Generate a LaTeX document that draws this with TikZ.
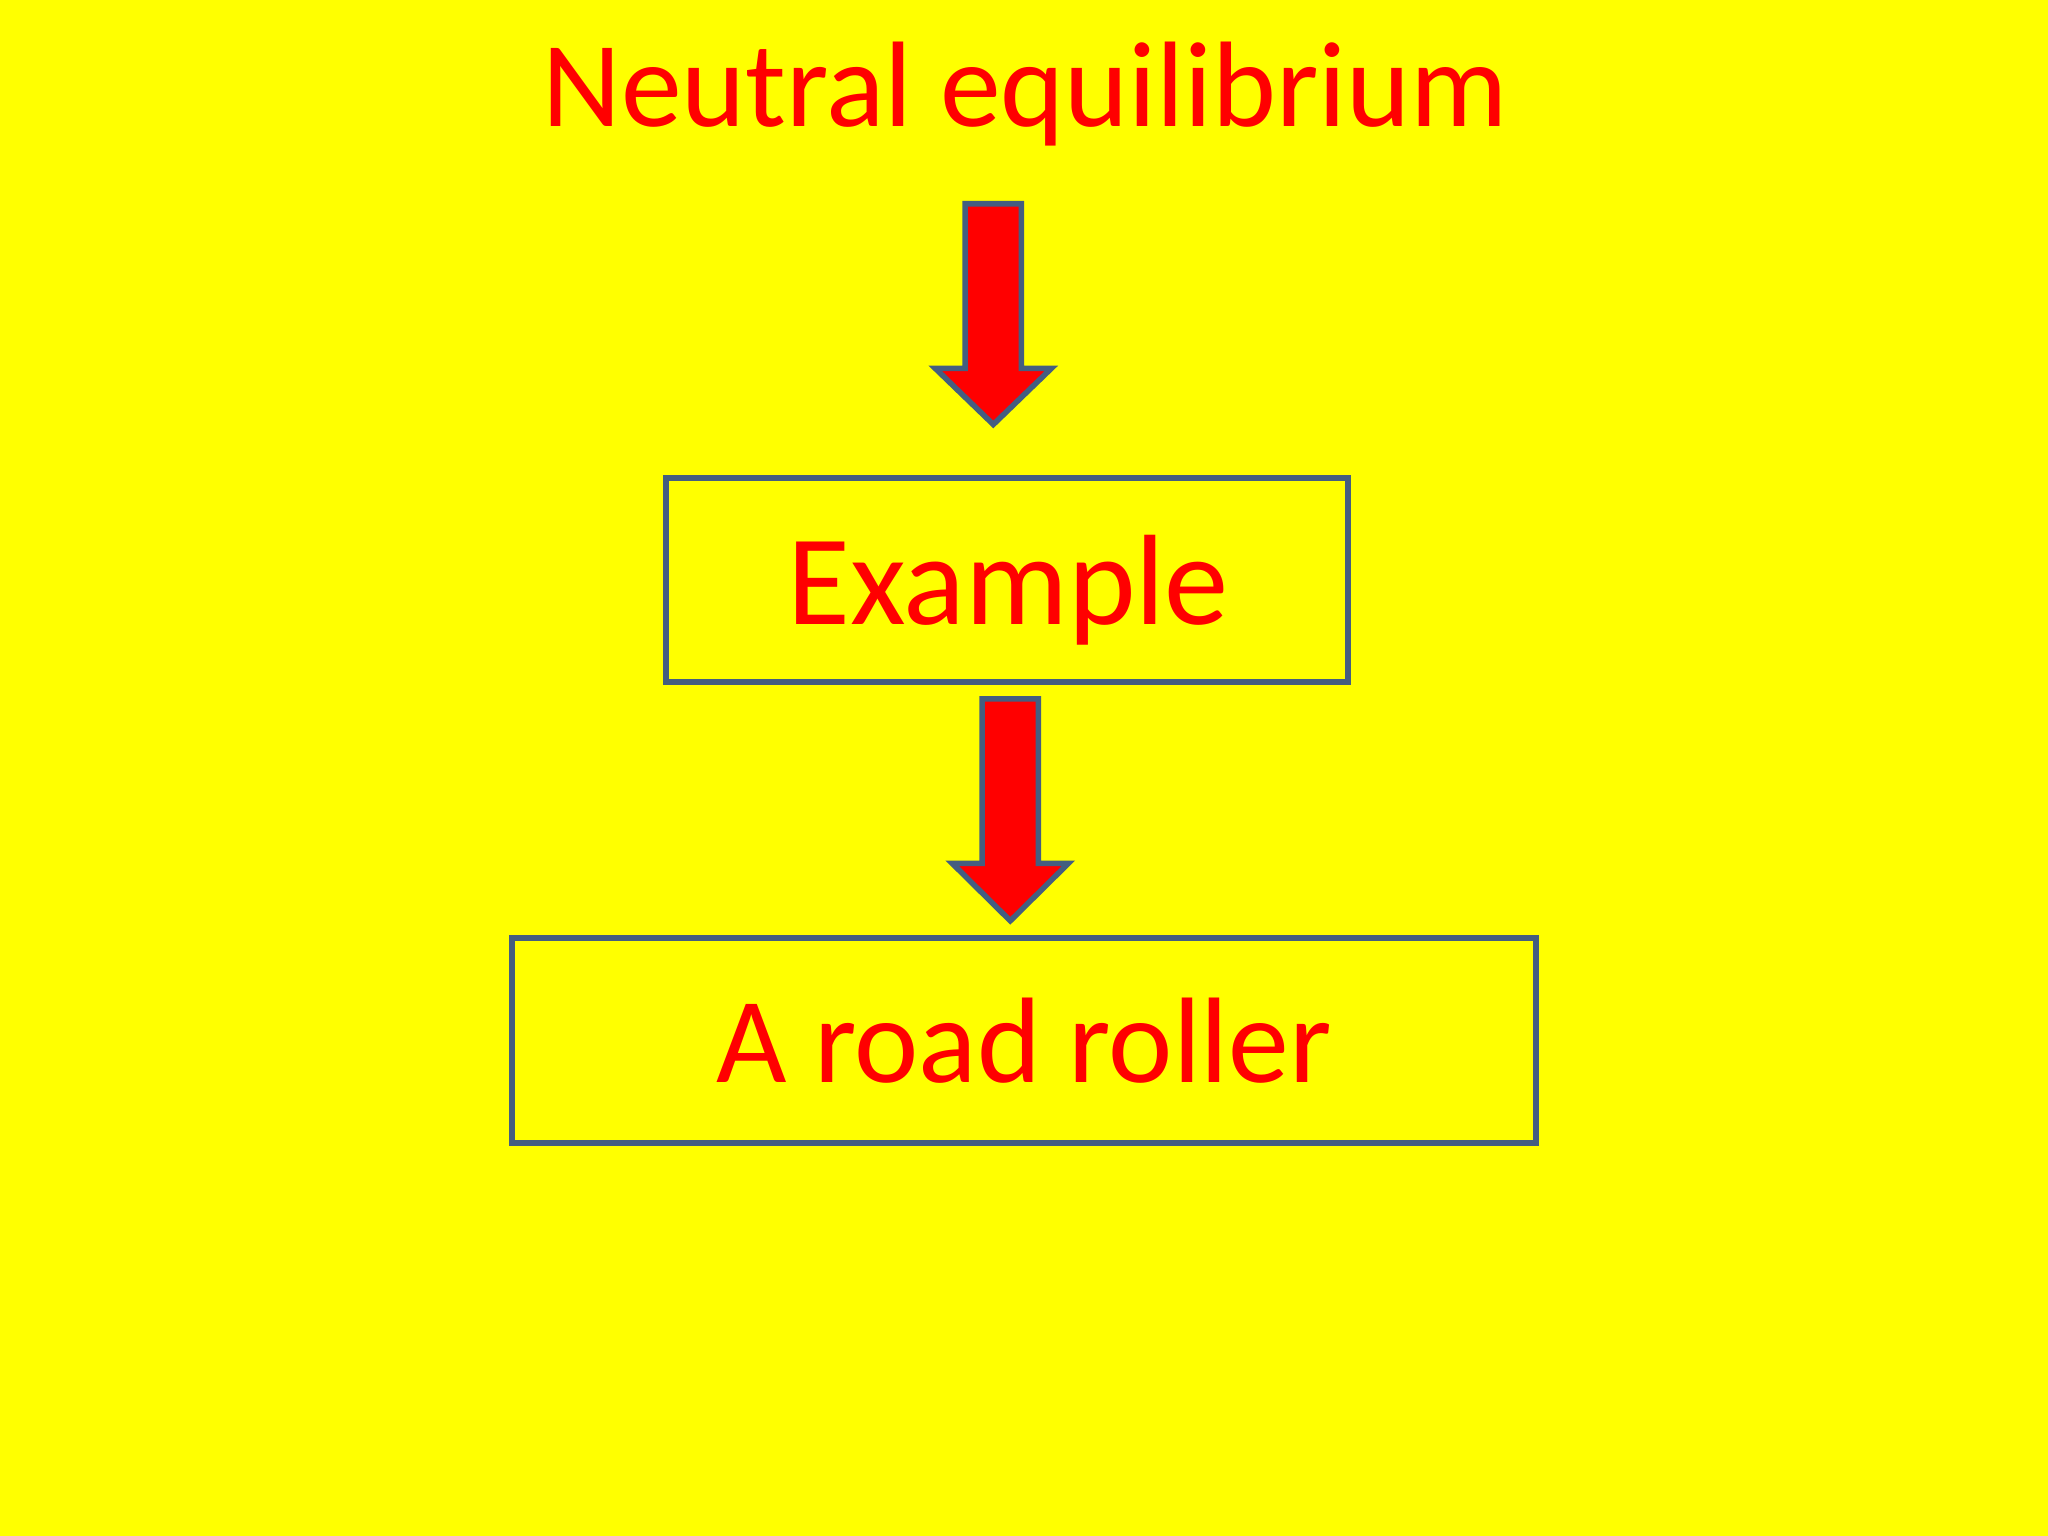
\documentclass[tikz,border=0pt]{standalone}
\usepackage{fontspec}
\setmainfont{Carlito}
\definecolor{bg}{RGB}{255,255,0}
\definecolor{edge}{RGB}{68,94,128}
\begin{document}
\begin{tikzpicture}[x=0.01cm,y=-0.01cm,
  lbl/.style={text=red,anchor=base,inner sep=0},
  boxstyle/.style={draw=edge,line width=1.2pt},
  arr/.style={draw=edge,fill=red,line width=1.2pt}]
\fill[bg] (0,0) rectangle (1568,1176);
\useasboundingbox (0,0) rectangle (1568,1176);
\node[lbl,font=\fontsize{26.5pt}{30pt}\selectfont] (title) at (785,97) {Neutral equilibrium};
\draw[arr] (739,156) -- (782,156) -- (782,282) -- (805,282) -- (760.5,325) -- (716,282) -- (739,282) -- cycle;
\draw[boxstyle] (510,366) rectangle (1032,522);
\node[lbl,font=\fontsize{28pt}{32pt}\selectfont] (ex) at (772,478) {Example};
\draw[arr] (752,535) -- (795,535) -- (795,661) -- (818,661) -- (773.5,705) -- (729,661) -- (752,661) -- cycle;
\draw[boxstyle] (392,718) rectangle (1176,875);
\node[lbl,font=\fontsize{26.5pt}{30pt}\selectfont] (rr) at (784,829) {A road roller};
\end{tikzpicture}
\end{document}
